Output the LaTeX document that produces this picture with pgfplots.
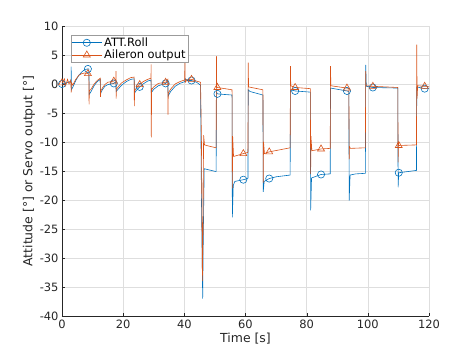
\documentclass[border=0pt]{standalone}
\usepackage{pgfplots}
\pgfplotsset{compat=1.18}
\usepackage{fontspec}
\setmainfont{DejaVu Sans}
\definecolor{mblue}{rgb}{0,0.447,0.741}
\definecolor{morange}{rgb}{0.85,0.325,0.098}
\definecolor{mgrid}{rgb}{0.87,0.87,0.87}
\definecolor{maxis}{rgb}{0.15,0.15,0.15}
\begin{document}
\begin{tikzpicture}
\path (-62bp,-39bp) rectangle (412bp,316bp);
\begin{axis}[
  at={(0,0)}, anchor=south west,
  scale only axis, width=367bp, height=290bp,
  xmin=0, xmax=120, ymin=-40, ymax=10,
  xtick={0,20,...,120}, ytick={-40,-35,...,10},
  axis lines*=left, axis line style={-, maxis},
  tick align=inside, major tick length=3bp,
  tick style={maxis},
  grid=major, major grid style={mgrid, line width=0.4bp},
  /pgf/number format/assume math mode=true,
  tick label style={font=\fontsize{11.5}{13}\selectfont, text=maxis},
  label style={font=\fontsize{12.5}{14}\selectfont, text=maxis},
  xlabel={Time [s]}, ylabel={Attitude [°] or Servo output [°]},
  xlabel style={yshift=2bp},
  ylabel style={yshift=-2bp},
  legend style={at={(0.024,0.969)}, anchor=north west, draw=mgrid!70!black,
    font=\fontsize{11.5}{13}\selectfont, inner sep=0.5bp, row sep=-2bp, legend cell align=left},
  legend image code/.code={\draw[mark repeat=2,mark phase=2,#1] plot coordinates {(0bp,0bp) (15bp,0bp) (30bp,0bp)};},
  every axis plot/.append style={line width=0.6bp},
]
\addlegendimage{mblue, mark=o, mark size=3.6bp, mark options={solid}}
\addlegendentry{ATT.Roll}
\addlegendimage{morange, mark=triangle, mark size=4bp, mark options={solid}}
\addlegendentry{Aileron output}

% Blue line: ATT.Roll
\addplot[mblue, forget plot] table {
0 0
1.5 0.2
2.5 0.4
2.95 0.3
3.0 3.0
3.05 -1.0
3.5 -0.6
4.5 0.6
5.5 1.5
6.5 2.1
7.5 2.5
8.47 2.6
8.8 2.6
8.9 -1.8
9.5 -1.3
10.5 -0.3
11.5 0.4
12.5 0.8
12.6 -1.6
13.2 -1.0
14 -0.4
15 -0.1
16.94 0.1
17.6 0.4
17.7 -1.3
18.5 -0.8
19.5 -0.2
21 0.4
22.5 0.8
23.6 0.9
23.7 -1.6
24.3 -1.1
25.41 -0.5
26.5 0.0
28 0.5
29.1 0.7
29.2 -1.5
30 -0.9
31.5 -0.3
33.88 0.1
34.6 0.5
34.7 -2.1
35.5 -1.3
37 -0.4
38.5 0.1
40.1 0.4
40.3 0.9
41 0.6
42.35 0.6
44 0.3
45.3 -0.2
45.6 -20
46.0 -37
46.2 -26
46.5 -14.6
48 -14.8
50.4 -15.1
50.5 -1.4
50.82 -1.7
53 -1.8
55.6 -1.9
55.7 -23
56.0 -17.5
56.5 -16.8
59.29 -16.5
60.8 -16.3
60.9 -1.0
61.5 -1.3
65.7 -1.9
65.8 -18.6
66.1 -16.8
67.76 -16.3
70 -16.0
74.6 -15.7
74.7 -1.0
76.23 -1.2
81.2 -1.4
81.3 -21.8
81.6 -16.2
84.7 -15.6
87.7 -15.5
87.8 -0.7
93.17 -1.2
93.8 -1.3
93.9 -20.1
94.2 -15.7
96 -15.5
99.2 -15.4
99.3 3.3
99.5 -0.4
101.64 -0.6
109.8 -0.7
109.9 -17.8
110.11 -15.3
115.9 -14.9
116.0 -0.5
118.58 -0.8
120 -0.8
};

% Orange line: Aileron output
\addplot[morange, forget plot] table {
0 0.2
0.8 0.9
1.2 -0.3
1.8 0.8
2.3 0.0
2.9 0.7
3.0 -1.5
3.1 0.2
3.5 -0.2
4.5 0.8
5.5 1.5
6.5 1.8
7.5 1.9
8.47 1.8
8.8 1.7
8.85 -3.5
8.95 -1.2
9.5 -0.9
10.5 0.0
11.5 0.6
12.5 1.0
12.6 -2.2
12.7 -1.2
13.2 -0.7
14 -0.1
15 0.3
16.94 0.5
17.6 0.8
17.65 2.2
17.7 -2.5
17.8 -0.9
18.5 -0.4
19.5 0.2
21 0.7
22.5 1.1
23.6 1.2
23.65 -3.8
23.75 -1.2
24.3 -0.7
25.41 -0.1
26.5 0.4
28 0.8
29.1 1.0
29.15 3.4
29.2 -9.2
29.3 -1.0
30 -0.5
31.5 0.1
33.88 0.3
34.6 0.8
34.65 -5.3
34.75 -1.6
35.5 -0.9
37 0.0
38.5 0.4
40.1 0.7
40.2 3.7
40.3 0.3
41 0.8
42.35 0.8
44 0.5
45.3 0.3
45.6 -10
45.9 -34
46.1 -25.5
46.3 -8.8
46.6 -10.5
48 -10.7
50.4 -11.0
50.5 4.8
50.6 -0.5
50.82 -0.6
55.6 -1.0
55.7 -18
55.8 -9.0
56.1 -12.5
59.29 -12.0
60.8 -11.8
60.9 3.7
61.0 -0.5
65.7 -1.0
65.8 -17
65.9 -10.0
66.2 -12.0
67.76 -11.7
74.6 -11.0
74.7 3.1
74.8 -0.3
76.23 -0.6
81.2 -0.8
81.3 -15.5
81.4 -9.0
81.7 -11.5
84.7 -11.2
87.7 -11.1
87.8 3.1
87.9 -0.3
93.17 -0.7
93.8 -0.8
93.9 -13
94.0 -10.8
94.3 -11.1
99.2 -11.0
99.3 2.2
99.4 -0.3
101.64 -0.4
109.8 -0.6
109.9 -13.5
110.0 -10.0
110.11 -10.6
115.9 -10.5
116.0 6.8
116.1 -2.5
116.3 -0.3
118.58 -0.4
120 -0.4
};

% Markers
\addplot[mblue, only marks, mark=o, mark size=3.6bp, forget plot] table {
0 0
8.47 2.6
16.94 0.1
25.41 -0.5
33.88 0.1
42.35 0.6
50.82 -1.7
59.29 -16.5
67.76 -16.3
76.23 -1.2
84.7 -15.6
93.17 -1.2
101.64 -0.6
110.11 -15.3
118.58 -0.8
};
\addplot[morange, only marks, mark=triangle, mark size=4bp, forget plot] table {
0 0.2
8.47 1.8
16.94 0.5
25.41 -0.1
33.88 0.3
42.35 0.8
50.82 -0.6
59.29 -12.0
67.76 -11.7
76.23 -0.6
84.7 -11.2
93.17 -0.7
101.64 -0.4
110.11 -10.6
118.58 -0.4
};
\end{axis}
\end{tikzpicture}
\end{document}
